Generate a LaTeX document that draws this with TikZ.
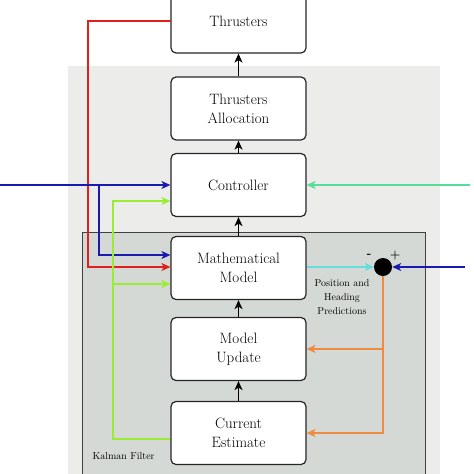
\documentclass[tikz,border=0pt]{standalone}
\usetikzlibrary{arrows.meta}
\definecolor{bgA}{HTML}{ECEDEB}
\definecolor{bgK}{HTML}{D5D9D5}
\definecolor{cRed}{HTML}{E0201B}
\definecolor{cBlue}{HTML}{1A1AB0}
\definecolor{cLime}{HTML}{99EE33}
\definecolor{cSea}{HTML}{55DD99}
\definecolor{cCyan}{HTML}{66DDDD}
\definecolor{cOrange}{HTML}{F08A40}
\begin{document}
\begin{tikzpicture}[x=1pt,y=-1pt,
  blockbox/.style={draw=black!85, fill=white, line width=1.2pt, rounded corners=5pt,
    minimum width=135pt, minimum height=63pt, align=center, inner sep=2pt,
    font=\fontsize{15}{19}\selectfont},
  link/.style={line width=1.4pt, -{Stealth[length=9pt,width=8pt,inset=2.5pt]}},
  smalltext/.style={font=\fontsize{10}{14}\selectfont, align=center}]
\useasboundingbox (0,0) rectangle (474,474);
\clip (0,0) rectangle (474,474);
\fill[bgA] (68,66) rectangle (440,480);
\draw[fill=bgK, draw=black!75, line width=1pt] (82,232) rectangle (425,480);
\node[smalltext, anchor=west] (kf) at (89,456) {Kalman Filter};

\node[blockbox] (thr) at (238.5,21.5) {Thrusters};
\node[blockbox] (alloc) at (238.5,108.5) {Thrusters\\Allocation};
\node[blockbox] (ctrl) at (238.5,185) {Controller};
\node[blockbox] (mm) at (238.5,268) {Mathematical\\Model};
\node[blockbox] (mu) at (238.5,349) {Model\\Update};
\node[blockbox] (ce) at (238.5,433) {Current\\Estimate};

\draw[link, black] (alloc) -- (thr);
\draw[link, black] (ctrl) -- (alloc);
\draw[link, black] (mm) -- (ctrl);
\draw[link, black] (mu) -- (mm);
\draw[link, black] (ce) -- (mu);

% red
\coordinate (rs) at (171,21);
\coordinate (rc) at (88,21);
\draw[link, cRed] (rs) -- (rc) |- ([yshift=1pt]mm.west);
% blue
\coordinate (bin) at (0,185);
\coordinate (bj) at (99,185);
\draw[link, cBlue] (bin) -- (ctrl.west);
\draw[link, cBlue] (bj) |- ([yshift=13pt]mm.west);
% lime
\coordinate (gc) at (113,439);
\draw[link, cLime] ([yshift=-6pt]ce.west) -- (gc) |- ([yshift=-16pt]ctrl.west);
\coordinate (gj) at (113,284);
\draw[link, cLime] (gj) -- ([yshift=-16pt]mm.west);
% seafoam
\coordinate (sin) at (470,185);
\draw[link, cSea] (sin) -- (ctrl.east);

% sum
\node[circle, fill=black, minimum size=18pt, inner sep=0pt] (sum) at (383,267) {};
\node[font=\fontsize{12}{12}\selectfont\bfseries] (minus) at (369,256) {-};
\node[font=\fontsize{12}{12}\selectfont\bfseries] (plus) at (395,256) {+};
\draw[link, cCyan] ([yshift=1pt]mm.east) -- (sum.west);
\coordinate (bin2) at (465,267);
\draw[link, cBlue] (bin2) -- (sum.east);
\node[smalltext] (pred) at (342,297) {Position and\\Heading\\Predictions};

% orange
\coordinate (oc) at (383,433);
\coordinate (oj) at (383,349);
\draw[link, cOrange] (sum.south) -- (oc) -- (ce.east);
\draw[link, cOrange] (oj) -- (mu.east);
\end{tikzpicture}
\end{document}
